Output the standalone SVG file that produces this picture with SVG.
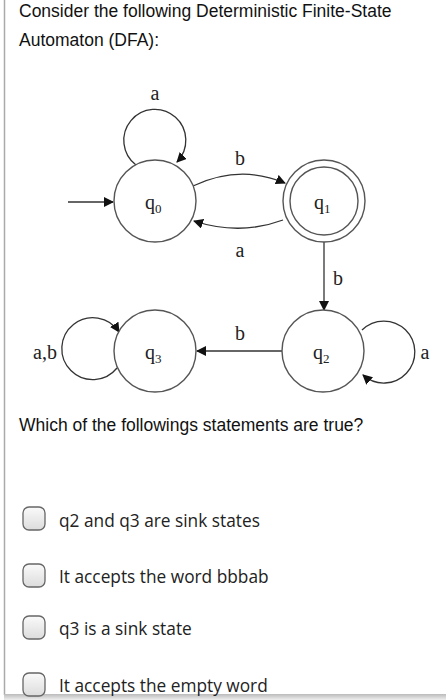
<svg xmlns="http://www.w3.org/2000/svg" width="446" height="700" viewBox="0 0 446 700">
<defs>
<style>
.node{fill:#fff;stroke:#555;stroke-width:1.4}
.edge{fill:none;stroke:#333;stroke-width:1.3}
.lbl{font-family:"Liberation Serif",serif;font-size:20px;fill:#222}
.sub{font-family:"Liberation Serif",serif;font-size:13px;fill:#222}
.hd{font-family:"Liberation Sans",Arial,sans-serif;font-size:17.5px;fill:#111}
.opt{font-family:"Open Sans","Noto Sans",sans-serif;font-size:17.3px;fill:#222}
.cb{fill:url(#cbg);stroke:#666;stroke-width:1.3}
</style>
<linearGradient id="cbg" x1="0" y1="0" x2="0" y2="1"><stop offset="0" stop-color="#fafafa"/><stop offset="1" stop-color="#dcdcdc"/></linearGradient>
<linearGradient id="bot" x1="0" y1="0" x2="0" y2="1"><stop offset="0" stop-color="#bbb"/><stop offset="1" stop-color="#eee"/></linearGradient>
<marker id="ah" markerWidth="10" markerHeight="10" refX="9" refY="5" orient="auto" markerUnits="userSpaceOnUse"><path d="M0,0 L10,5 L0,10 z" fill="#111"/></marker>
</defs>
<rect width="446" height="700" fill="#fff"/>
<line x1="4.5" y1="0" x2="4.5" y2="695" stroke="#aaa" stroke-width="1.5"/>
<rect x="4" y="694" width="442" height="6" fill="url(#bot)"/>
<text class="hd" x="19" y="17">Consider the following Deterministic Finite-State</text>
<text class="hd" x="19" y="46">Automaton (DFA):</text>
<text class="hd" x="19" y="431">Which of the followings statements are true?</text>

<g id="connectors">
<line class="edge" x1="68" y1="202" x2="113" y2="202" marker-end="url(#ah)"/>
<path class="edge" d="M136,165 A31,31 0 1 1 177,162" marker-end="url(#ah)"/>
<path class="edge" d="M193,186 Q240,164 285,183" marker-end="url(#ah)"/>
<path class="edge" d="M283,220 Q240,236 194,221" marker-end="url(#ah)"/>
<line class="edge" x1="324" y1="242" x2="324" y2="310" marker-end="url(#ah)"/>
<line class="edge" x1="283" y1="351" x2="197" y2="351" marker-end="url(#ah)"/>
<path class="edge" d="M117,368 A31,31 0 1 1 119,332" marker-end="url(#ah)"/>
<path class="edge" d="M362,330 A31,31 0 1 1 363,375" marker-end="url(#ah)"/>
<text class="lbl" x="155" y="100" text-anchor="middle">a</text>
<text class="lbl" x="240" y="165" text-anchor="middle">b</text>
<text class="lbl" x="240" y="257" text-anchor="middle">a</text>
<text class="lbl" x="338" y="285" text-anchor="middle">b</text>
<text class="lbl" x="240" y="340" text-anchor="middle">b</text>
<text class="lbl" x="45" y="359" text-anchor="middle">a,b</text>
<text class="lbl" x="425" y="359" text-anchor="middle">a</text>
</g>

<g id="q0">
<circle class="node" cx="155" cy="201" r="41"/>
<text x="145" y="209"><tspan class="lbl">q</tspan><tspan class="sub" dy="4">0</tspan></text>
</g>
<g id="q1">
<circle class="node" cx="324" cy="201" r="41"/>
<circle class="node" cx="324" cy="201" r="34" fill="none"/>
<text x="314" y="209"><tspan class="lbl">q</tspan><tspan class="sub" dy="4">1</tspan></text>
</g>
<g id="q2">
<circle class="node" cx="323" cy="351" r="41"/>
<text x="313" y="359"><tspan class="lbl">q</tspan><tspan class="sub" dy="4">2</tspan></text>
</g>
<g id="q3">
<circle class="node" cx="155" cy="351" r="41"/>
<text x="145" y="359"><tspan class="lbl">q</tspan><tspan class="sub" dy="4">3</tspan></text>
</g>

<g id="options">
<rect class="cb" x="23" y="507" width="22" height="23" rx="6"/>
<text class="opt" x="59" y="527">q2 and q3 are sink states</text>
<rect class="cb" x="23" y="564" width="22" height="23" rx="6"/>
<text class="opt" x="59" y="583">It accepts the word bbbab</text>
<rect class="cb" x="23" y="616" width="22" height="23" rx="6"/>
<text class="opt" x="59" y="635">q3 is a sink state</text>
<rect class="cb" x="23" y="673" width="22" height="23" rx="6"/>
<text class="opt" x="59" y="692">It accepts the empty word</text>
</g>
</svg>
